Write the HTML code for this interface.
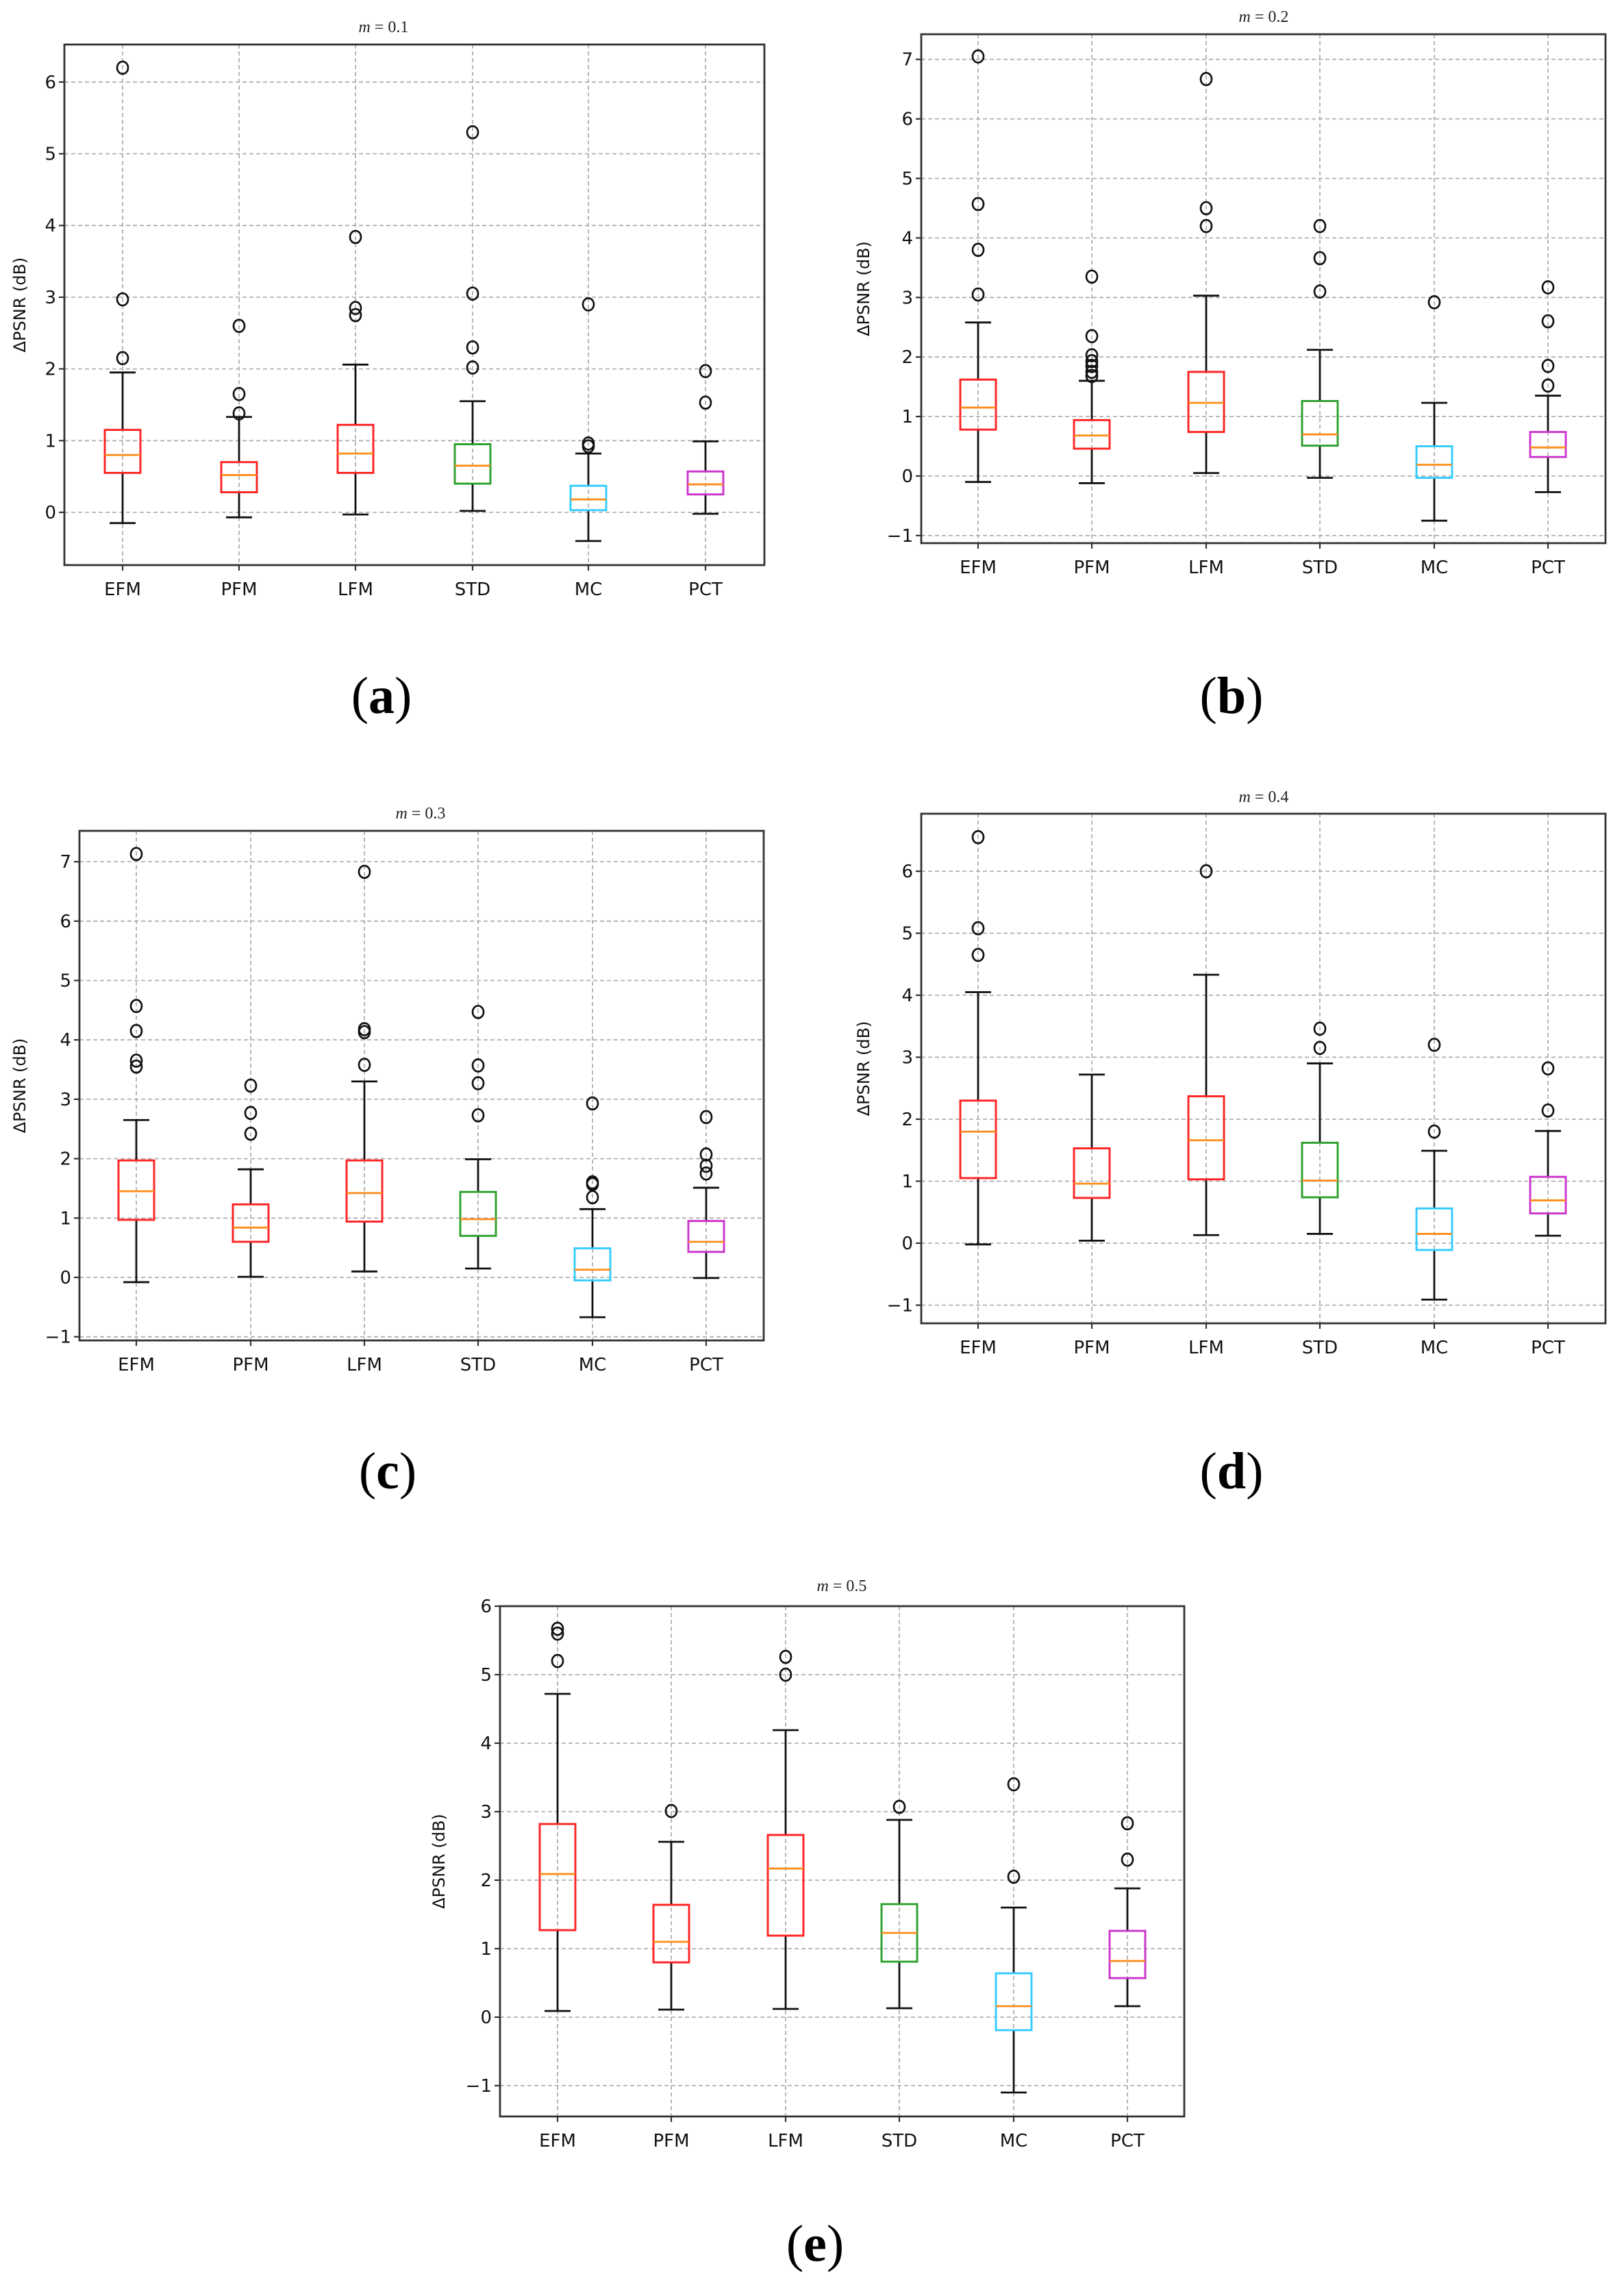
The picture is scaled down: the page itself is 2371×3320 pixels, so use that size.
<!DOCTYPE html>
<html><head><meta charset="utf-8">
<style>
html,body{margin:0;padding:0;background:#fff;}
svg{display:block;}
</style></head>
<body>
<svg id="s" xmlns="http://www.w3.org/2000/svg" width="2371" height="3320" viewBox="0 0 2371 3320"></svg>
<script>
const C={r:'#ff2222',g:'#2ca02c',c:'#33ccff',m:'#cc33cc'};
const cols=[C.r,C.r,C.r,C.g,C.c,C.m];
const names=['EFM','PFM','LFM','STD','MC','PCT'];
const catsA=[1428,1594,1761,1927,2094,2260];
const P=[
{L:94,R:1116,T:65,B:825,y0:748,u:104.7,t:[0,6],cats:[179,349,519,690,859,1030],tx:560,ty:39,yl:30,lab:'(a)',lx:557,ly:1017,title:'0.1',
d:[[0.55,0.8,1.15,-0.15,1.95,[2.15,2.97,6.2]],[0.28,0.52,0.7,-0.07,1.33,[1.38,1.65,2.6]],[0.55,0.82,1.22,-0.03,2.06,[2.75,2.85,3.84]],[0.4,0.65,0.95,0.02,1.55,[2.02,2.3,3.05,5.3]],[0.03,0.18,0.37,-0.4,0.82,[0.92,0.96,2.9]],[0.25,0.39,0.57,-0.02,0.99,[1.53,1.97]]]},
{L:1345,R:2344,T:50,B:793,y0:695,u:86.9,t:[-1,7],cats:catsA,tx:1845,ty:24,yl:1262,lab:'(b)',lx:1798,ly:1017,title:'0.2',
d:[[0.78,1.15,1.62,-0.1,2.58,[3.05,3.8,4.57,7.05]],[0.46,0.68,0.94,-0.12,1.6,[1.68,1.75,1.85,1.93,2.03,2.35,3.35]],[0.74,1.23,1.75,0.05,3.03,[4.2,4.5,6.67]],[0.51,0.7,1.26,-0.03,2.12,[3.1,3.66,4.2]],[-0.03,0.19,0.5,-0.75,1.23,[2.92]],[0.32,0.48,0.74,-0.27,1.35,[1.52,1.85,2.6,3.17]]]},
{L:116,R:1115,T:1213,B:1957,y0:1865,u:86.7,t:[-1,7],cats:[199,366,532,698,865,1031],tx:614,ty:1187,yl:30,lab:'(c)',lx:566,ly:2149,title:'0.3',
d:[[0.97,1.45,1.97,-0.08,2.65,[3.55,3.65,4.15,4.57,7.13]],[0.6,0.84,1.23,0.01,1.82,[2.42,2.77,3.23]],[0.94,1.42,1.97,0.1,3.3,[3.58,4.13,4.18,6.83]],[0.7,0.98,1.44,0.15,1.99,[2.73,3.27,3.57,4.47]],[-0.05,0.13,0.49,-0.67,1.15,[1.35,1.57,1.6,2.93]],[0.43,0.6,0.95,-0.01,1.51,[1.75,1.88,2.07,2.7]]]},
{L:1345,R:2344,T:1188,B:1932,y0:1815,u:90.5,t:[-1,6],cats:catsA,tx:1845,ty:1163,yl:1262,lab:'(d)',lx:1798,ly:2149,title:'0.4',
d:[[1.05,1.8,2.3,-0.02,4.05,[4.65,5.08,6.55]],[0.73,0.96,1.53,0.04,2.72,[]],[1.03,1.66,2.37,0.13,4.33,[6.0]],[0.74,1.01,1.62,0.15,2.9,[3.15,3.46]],[-0.11,0.15,0.56,-0.91,1.49,[1.8,3.2]],[0.48,0.69,1.07,0.12,1.81,[2.14,2.82]]]},
{L:730,R:1729,T:2345,B:3090,y0:2945,u:100,t:[-1,6],cats:[814,980,1147,1313,1480,1646],tx:1229,ty:2315,yl:642,lab:'(e)',lx:1190,ly:3277,title:'0.5',
d:[[1.27,2.09,2.82,0.09,4.72,[5.2,5.6,5.67]],[0.8,1.1,1.64,0.11,2.56,[3.01]],[1.19,2.17,2.66,0.12,4.19,[5.0,5.26]],[0.81,1.23,1.65,0.13,2.88,[3.07]],[-0.19,0.16,0.64,-1.1,1.6,[2.05,3.4]],[0.57,0.82,1.26,0.16,1.88,[2.3,2.83]]]}
];
let h='';
const F='font-family="DejaVu Sans, Liberation Sans, sans-serif"';
for(const p of P){
 const Y=v=>p.y0-v*p.u;
 for(let v=p.t[0];v<=p.t[1];v++){const y=Y(v);
  h+=`<line x1="${p.L}" x2="${p.R}" y1="${y}" y2="${y}" stroke="#b0b0b0" stroke-width="1.8" stroke-dasharray="6,4"/>`;
  h+=`<line x1="${p.L-8}" x2="${p.L}" y1="${y}" y2="${y}" stroke="#333" stroke-width="2.2"/>`;
  h+=`<text x="${p.L-12}" y="${y+9}" text-anchor="end" font-size="26" ${F} fill="#111">${v<0?'−'+(-v):v}</text>`;}
 p.cats.forEach((x,i)=>{
  h+=`<line x1="${x}" x2="${x}" y1="${p.T}" y2="${p.B}" stroke="#b0b0b0" stroke-width="1.8" stroke-dasharray="6,4"/>`;
  h+=`<line x1="${x}" x2="${x}" y1="${p.B}" y2="${p.B+8}" stroke="#333" stroke-width="2.2"/>`;
  h+=`<text x="${x}" y="${p.B+44}" text-anchor="middle" font-size="26" ${F} fill="#111">${names[i]}</text>`;
  const [q1,md,q3,lo,hi,out]=p.d[i];const w=26;
  h+=`<line x1="${x}" x2="${x}" y1="${Y(hi)}" y2="${Y(q3)}" stroke="#111" stroke-width="2.8"/>`;
  h+=`<line x1="${x}" x2="${x}" y1="${Y(q1)}" y2="${Y(lo)}" stroke="#111" stroke-width="2.8"/>`;
  h+=`<line x1="${x-19}" x2="${x+19}" y1="${Y(hi)}" y2="${Y(hi)}" stroke="#111" stroke-width="2.8"/>`;
  h+=`<line x1="${x-19}" x2="${x+19}" y1="${Y(lo)}" y2="${Y(lo)}" stroke="#111" stroke-width="2.8"/>`;
  h+=`<rect x="${x-w}" y="${Y(q3)}" width="${2*w}" height="${Y(q1)-Y(q3)}" fill="none" stroke="${cols[i]}" stroke-width="2.9"/>`;
  h+=`<line x1="${x-w}" x2="${x+w}" y1="${Y(md)}" y2="${Y(md)}" stroke="#ff8c1a" stroke-width="2.8"/>`;
  for(const o of out)h+=`<ellipse cx="${x}" cy="${Y(o)}" rx="8" ry="9" fill="none" stroke="#111" stroke-width="2.7"/>`;
 });
 h+=`<rect x="${p.L}" y="${p.T}" width="${p.R-p.L}" height="${p.B-p.T}" fill="none" stroke="#333" stroke-width="2.8"/>`;
 const my=(p.T+p.B)/2;
 h+=`<text x="${p.yl}" y="${my}" transform="rotate(-90 ${p.yl} ${my})" text-anchor="middle" dominant-baseline="middle" font-size="24" ${F} fill="#111">ΔPSNR (dB)</text>`;
 h+=`<text x="${p.tx}" y="${p.ty+8}" text-anchor="middle" font-size="24" font-family="Liberation Serif, serif" fill="#222"><tspan font-style="italic">m</tspan> = ${p.title}</text>`;
 h+=`<text x="${p.lx}" y="${p.ly+24}" text-anchor="middle" font-size="76" font-family="Liberation Serif, serif" fill="#000">(<tspan font-weight="bold">${p.lab[1]}</tspan>)</text>`;
}
document.getElementById('s').innerHTML=h;
</script>
</body></html>
